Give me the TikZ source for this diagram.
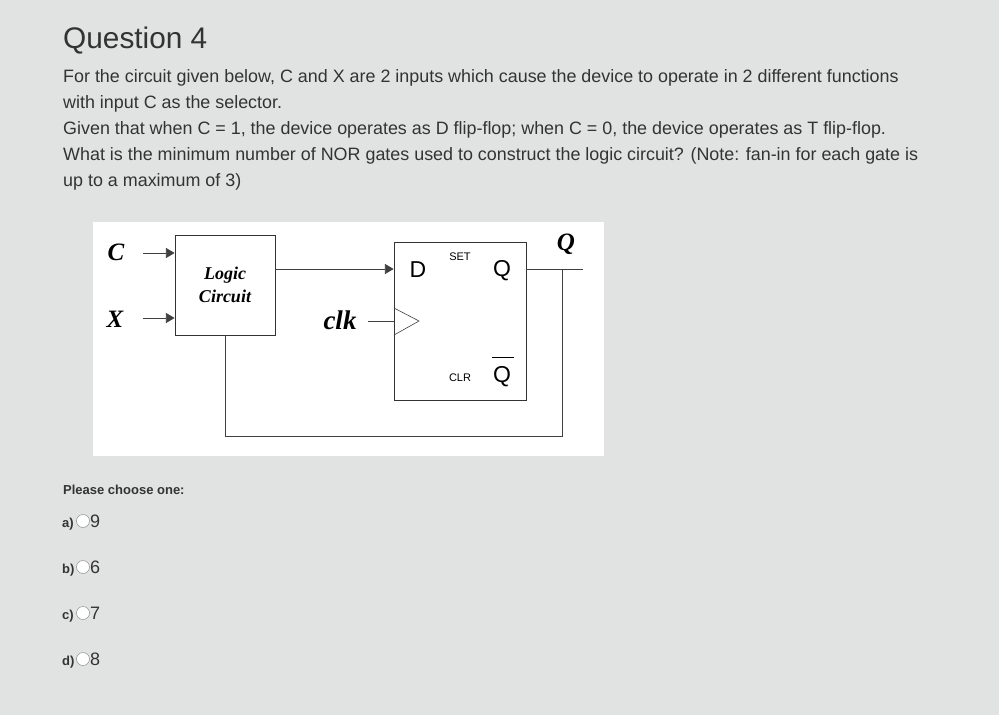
\documentclass[tikz,border=0pt]{standalone}
\usepackage{fontspec}
\setmainfont{Liberation Sans}
\newfontfamily\tnr{Liberation Serif}
\usetikzlibrary{arrows.meta}
\definecolor{bg}{HTML}{E1E3E2}
\definecolor{txt}{HTML}{333333}
\begin{document}
\begin{tikzpicture}[x=1pt,y=-1pt,
  wire/.style={draw=black!75,line width=0.8pt},
  arr/.style={wire,-{Triangle[scale=1.8]}},
  body/.style={anchor=west,inner sep=0,text=txt,font=\fontsize{17.9}{20}\selectfont},
  lbl/.style={inner sep=0,font=\tnr\bfseries\itshape\fontsize{25}{27}\selectfont},
  pin/.style={inner sep=0,font=\fontsize{11}{12}\selectfont},
  opt/.style={anchor=base west,inner sep=0,text=txt,font=\fontsize{18}{20}\selectfont}]
\fill[bg] (0,0) rectangle (999,715);
\useasboundingbox (0,0) rectangle (999,715);
\node[body,font=\fontsize{29.8}{32}\selectfont] (title) at (63,41) {Question 4};
\node[body] (l1) at (63,78) {For the circuit given below, C and X are 2 inputs which cause the device to operate in 2 different functions};
\node[body] (l2) at (63,104) {with input C as the selector.};
\node[body] (l3) at (63,130) {Given that when C = 1, the device operates as D flip-flop; when C = 0, the device operates as T flip-flop.};
\node[body] (l4) at (63,156) {What is the minimum number of NOR gates used to construct the logic circuit? (Note: fan-in for each gate is};
\node[body] (l5) at (63,182) {up to a maximum of 3)};
% diagram
\fill[white] (93,222) rectangle (604,456);
\node[draw=black!80,line width=0.8pt,minimum width=100pt,minimum height=100pt,inner sep=0,align=center,
  font=\tnr\bfseries\itshape\fontsize{18}{23}\selectfont] (lc) at (225,285) {Logic\\Circuit};
\node[draw=black!80,line width=0.8pt,minimum width=132pt,minimum height=158pt,inner sep=0] (ff) at (460,321) {};
\node[lbl] (C) at (116,252) {C};
\node[lbl] (X) at (115,319) {X};
\node[lbl,font=\tnr\bfseries\itshape\fontsize{27}{29}\selectfont] (clk) at (340,320) {clk};
\node[lbl] (Qo) at (566,244) {Q};
\coordinate (cin) at (143,253);
\coordinate (xin) at (143,318);
\draw[arr] (cin) -- (cin -| lc.west);
\draw[arr] (xin) -- (xin -| lc.west);
\draw[arr] (lc.east |- 0,269) -- (ff.west |- 0,269);
\coordinate (qend) at (583,269);
\coordinate (fb) at (562,269);
\draw[wire] (ff.east |- qend) -- (qend);
\draw[wire] (fb) -- (562,436) -| (lc.south);
\coordinate (clkin) at (368,321);
\draw[black!75,line width=0.6pt] (clkin) -- (ff.west |- clkin);
\draw[black!75,line width=0.6pt] (394,308) -- (419,321) -- (394,335);
\node[pin] (set) at (460,257) {SET};
\node[pin] (clr) at (460,378) {CLR};
\node[inner sep=0,font=\fontsize{23}{24}\selectfont] (D) at (418,270) {D};
\node[inner sep=0,font=\fontsize{23}{24}\selectfont] (Q) at (502,271) {Q};
\node[inner sep=0,font=\fontsize{23}{24}\selectfont] (Qb) at (502,377) {Q};
\draw[black,line width=0.8pt] (492,357) -- (514,357);
% options
\node[body,font=\bfseries\fontsize{13}{15}\selectfont] (pc) at (63,490) {Please choose one:};
\foreach \l/\v/\y [count=\i] in {a/9/521,b/6/567,c/7/613,d/8/659}{
  \node[opt,font=\bfseries\fontsize{13}{15}\selectfont] (o\i) at (62,\y+6) {\l)};
  \draw[black!45,fill=white,line width=0.5pt] (83,\y) circle (6.5pt);
  \node[opt] (v\i) at (90,\y+6.5) {\v};
}
\end{tikzpicture}
\end{document}
